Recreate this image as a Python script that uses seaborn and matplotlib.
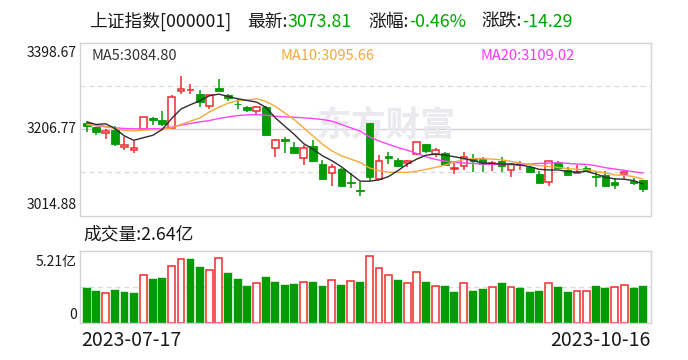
import numpy as np
import pandas as pd
import matplotlib
matplotlib.use("Agg")
import matplotlib.pyplot as plt
import seaborn as sns

# ---------------- data ----------------
date_labels = ["2023-07-17", "2023-10-16"]
prev_close0 = 3237.70

opens = [3220.7, 3210.4, 3198.7, 3203.8, 3167.9, 3161.4, 3206.0, 3230.9, 3227.3, 3209.7,
         3291.0, 3293.0, 3284.4, 3258.8, 3298.3, 3281.5, 3263.2, 3255.1, 3247.8, 3255.8,
         3164.3, 3184.0, 3166.5, 3141.6, 3168.7, 3129.2, 3108.6, 3117.4, 3090.3, 3072.0,
         3220.7, 3096.2, 3146.0, 3137.9, 3130.6, 3151.1, 3173.1, 3151.1, 3154.8, 3118.9,
         3125.5, 3140.1, 3140.1, 3129.2, 3135.0, 3116.0, 3127.0, 3123.3, 3107.2, 3088.9,
         3132.8, 3116.0, 3108.6, 3119.6, 3103.5, 3105.0, 3090.3, 3106.4, 3092.5, 3094.0]
highs = [3222.9, 3210.4, 3206.1, 3212.6, 3189.2, 3180.4, 3234.5, 3234.6, 3247.8, 3283.0,
         3324.7, 3306.4, 3293.9, 3282.0, 3318.1, 3284.4, 3274.2, 3258.8, 3258.8, 3258.0,
         3184.8, 3189.2, 3179.0, 3170.9, 3181.9, 3137.9, 3129.2, 3119.6, 3108.6, 3088.9,
         3220.7, 3149.7, 3157.0, 3142.3, 3137.9, 3179.0, 3173.1, 3164.3, 3157.0, 3130.6,
         3157.0, 3151.1, 3145.3, 3136.5, 3143.8, 3130.6, 3135.0, 3125.5, 3114.5, 3135.0,
         3135.0, 3121.8, 3127.7, 3125.5, 3110.8, 3113.0, 3098.4, 3114.5, 3098.4, 3094.0]
lows = [3200.2, 3193.6, 3184.1, 3169.4, 3160.6, 3154.0, 3205.5, 3215.5, 3212.6, 3209.0,
        3284.4, 3284.4, 3255.1, 3251.5, 3290.3, 3268.3, 3251.5, 3244.9, 3239.0, 3193.6,
        3145.3, 3152.6, 3154.0, 3127.7, 3136.5, 3096.9, 3079.3, 3081.5, 3076.4, 3057.4,
        3091.1, 3096.2, 3129.2, 3121.8, 3121.8, 3149.7, 3154.8, 3143.8, 3127.7, 3107.2,
        3116.0, 3110.8, 3110.8, 3114.5, 3110.8, 3101.3, 3116.0, 3112.3, 3088.1, 3081.5,
        3120.4, 3105.7, 3108.6, 3110.8, 3077.9, 3077.9, 3074.2, 3096.2, 3083.7, 3068.0]
closes = [3213.4, 3200.2, 3201.6, 3174.6, 3171.6, 3165.8, 3233.9, 3227.3, 3219.2, 3277.8,
          3294.9, 3294.3, 3266.1, 3281.5, 3290.3, 3275.6, 3261.7, 3249.3, 3255.8, 3193.6,
          3182.0, 3180.5, 3154.0, 3165.8, 3136.5, 3096.9, 3121.8, 3081.5, 3086.7, 3068.4,
          3101.3, 3136.5, 3141.6, 3124.0, 3135.0, 3179.0, 3158.5, 3160.0, 3127.7, 3120.4,
          3143.8, 3136.5, 3129.2, 3132.1, 3125.5, 3129.5, 3128.5, 3112.3, 3088.1, 3135.0,
          3120.4, 3105.7, 3110.8, 3113.0, 3101.3, 3079.3, 3083.7, 3111.6, 3088.10, 3073.81]

ma5 = [3222.9, 3217.0, 3218.5, 3208.2, 3191.4, 3181.9, 3187.7, 3192.9, 3206.0, 3230.2,
       3251.5, 3261.0, 3269.8, 3280.8, 3284.4, 3279.3, 3274.2, 3270.5, 3266.8, 3255.1,
       3231.7, 3213.4, 3195.1, 3174.6, 3162.1, 3147.5, 3136.5, 3123.3, 3107.2, 3091.1,
       3091.1, 3094.0, 3101.3, 3114.5, 3129.1, 3140.1, 3148.9, 3151.1, 3148.9, 3145.3,
       3141.6, 3136.5, 3131.3, 3130.6, 3129.1, 3129.1, 3126.9, 3123.3, 3117.4, 3116.0,
       3116.0, 3113.0, 3110.8, 3113.0, 3107.2, 3099.8, 3096.2, 3095.5, 3092.5, 3084.80]
ma10 = [3217.0, 3214.8, 3213.4, 3208.2, 3203.8, 3202.4, 3204.6, 3205.3, 3206.0, 3209.7,
        3217.0, 3224.4, 3231.7, 3244.9, 3255.1, 3264.6, 3269.8, 3271.2, 3274.2, 3268.3,
        3257.3, 3242.7, 3228.0, 3209.7, 3191.4, 3173.1, 3158.4, 3147.5, 3140.1, 3132.8,
        3120.4, 3114.5, 3110.8, 3110.8, 3110.8, 3113.0, 3117.4, 3121.8, 3126.9, 3133.5,
        3139.4, 3141.6, 3140.9, 3140.1, 3138.7, 3135.0, 3131.3, 3127.7, 3125.5, 3124.0,
        3121.8, 3118.9, 3117.4, 3116.7, 3113.0, 3109.4, 3105.0, 3104.2, 3101.3, 3095.66]
ma20 = [3217.0, 3214.1, 3211.9, 3209.7, 3208.2, 3207.5, 3207.5, 3207.5, 3208.2, 3211.2,
        3215.6, 3219.2, 3222.9, 3225.8, 3230.2, 3233.9, 3236.8, 3238.3, 3239.0, 3237.5,
        3235.3, 3233.9, 3233.1, 3231.7, 3230.2, 3228.0, 3224.4, 3217.0, 3209.7, 3202.4,
        3189.2, 3180.4, 3173.1, 3165.8, 3159.9, 3152.6, 3145.3, 3139.4, 3135.7, 3133.5,
        3131.3, 3130.6, 3129.1, 3129.1, 3128.4, 3127.7, 3128.4, 3129.1, 3130.6, 3131.3,
        3132.1, 3130.6, 3129.1, 3128.4, 3125.5, 3121.1, 3118.2, 3115.2, 3112.3, 3109.02]

volumes = [2.54, 2.30, 2.13, 2.37, 2.23, 2.16, 3.44, 3.17, 3.25, 4.09,
           4.60, 4.65, 4.05, 3.80, 4.68, 3.61, 3.17, 2.67, 2.86, 3.32,
           2.96, 2.74, 2.81, 2.93, 2.96, 2.67, 3.08, 2.74, 3.00, 2.96,
           4.82, 3.95, 3.44, 3.10, 2.86, 3.66, 2.96, 2.64, 2.67, 2.23,
           2.86, 2.30, 2.45, 2.57, 2.88, 2.57, 2.52, 2.23, 2.30, 2.86,
           2.59, 2.23, 2.33, 2.33, 2.67, 2.52, 2.57, 2.71, 2.52, 2.64]

price_axis = [3014.88, 3206.77, 3398.67]
vol_axis_top = 5.21

# ---------------- style ----------------
sns.set_theme(style="white")
plt.rcParams["font.family"] = ["Noto Sans CJK SC", "DejaVu Sans"]
plt.rcParams["axes.unicode_minus"] = False

RED = "#EE2B2B"
GREEN = "#029C02"
TXT_GREEN = "#00A600"
FRAME = "#D2D2DA"
GRID = "#DADADA"

W, H = 688, 360
fig = plt.figure(figsize=(W / 100, H / 100), dpi=100)
fig.patch.set_facecolor("white")


def fx(px):
    return px / W


def fy(py):
    return 1 - py / H


ax = fig.add_axes([fx(80), fy(215.5), 571 / W, (215.5 - 42.7) / H])
axv = fig.add_axes([fx(80), fy(322.7), 571 / W, (322.7 - 251) / H])

n = len(closes)
idx = np.arange(n)
o = np.array(opens); c = np.array(closes); hi = np.array(highs); lo = np.array(lows)
up = c >= o

# ---------------- price panel ----------------
p_lo, p_mid, p_hi = price_axis
ax.set_xlim(-0.72, 59.85)
ax.set_ylim(p_lo, p_hi)
q = (p_hi - p_lo) / 4
for v in (p_lo + q, p_lo + 3 * q):
    ax.axhline(v, color=GRID, lw=0.9, ls=(0, (4, 3)), zorder=0)
ax.axhline(p_mid, color=FRAME, lw=1.0, zorder=0)

ax.text(fx(386), fy(125), "东方财富", transform=fig.transFigure, ha="center",
        va="center", fontsize=25, fontweight="bold", color="#E9E9EE", zorder=0.5)

wick_colors = [RED if u else GREEN for u in up]
ax.vlines(idx, lo, hi, colors=wick_colors, lw=1.1, zorder=2)
body_lo = np.minimum(o, c)
body_h = np.maximum(np.abs(c - o), 1.3)
ax.bar(idx[up], body_h[up], bottom=body_lo[up], width=0.70, facecolor="white",
       edgecolor=RED, lw=1.1, zorder=3)
ax.bar(idx[~up], body_h[~up], bottom=body_lo[~up], width=0.80, facecolor=GREEN,
       edgecolor=GREEN, lw=0.6, zorder=3)

ma_df = pd.DataFrame({"i": idx, "MA5": ma5, "MA10": ma10, "MA20": ma20})
sns.lineplot(data=ma_df, x="i", y="MA20", ax=ax, color="#FF44FF", lw=1.0, zorder=4)
sns.lineplot(data=ma_df, x="i", y="MA10", ax=ax, color="#F6A83A", lw=1.0, zorder=4)
sns.lineplot(data=ma_df, x="i", y="MA5", ax=ax, color="#2E2E2E", lw=1.0, zorder=5)
ax.set_xlim(-0.72, 59.85)
ax.set_ylim(p_lo, p_hi)
ax.set_xticks([]); ax.set_yticks([])
ax.set_xlabel(""); ax.set_ylabel("")
for s in ax.spines.values():
    s.set_color(FRAME); s.set_linewidth(1.0)

# ---------------- volume panel ----------------
prev = np.concatenate([[prev_close0], c[:-1]])
vol_dir = np.where(c >= prev, "up", "down")
vdf = pd.DataFrame({"i": idx, "vol": volumes, "dir": vol_dir})
axv.axhline(vol_axis_top / 2, color=GRID, lw=0.9, ls=(0, (4, 3)), zorder=0)
sns.barplot(data=vdf, x="i", y="vol", hue="dir", palette={"up": RED, "down": GREEN},
            native_scale=True, dodge=False, width=0.84, errorbar=None, legend=False,
            saturation=1, ax=axv, zorder=2)
red_rgb = matplotlib.colors.to_rgb(RED)
for p in axv.patches:
    fc = p.get_facecolor()[:3]
    if np.allclose(fc, red_rgb, atol=0.02):
        p.set_facecolor("white"); p.set_edgecolor(RED); p.set_linewidth(1.1)
        w = p.get_width(); p.set_x(p.get_x() + 0.06); p.set_width(w - 0.12)
    else:
        p.set_edgecolor(GREEN); p.set_linewidth(0.3)
axv.set_xlim(-0.72, 59.85)
axv.set_ylim(0, vol_axis_top)
axv.set_xticks([]); axv.set_yticks([])
axv.set_xlabel(""); axv.set_ylabel("")
for s in axv.spines.values():
    s.set_color(FRAME); s.set_linewidth(1.0)

# ---------------- texts ----------------
TK = "#1A1A1A"
fig.text(fx(77), fy(52.7), f"{p_hi:.2f}", ha="right", va="center", fontsize=10, color=TK)
fig.text(fx(77), fy(129.3), f"{p_mid:.2f}", ha="right", va="center", fontsize=10, color=TK)
fig.text(fx(77), fy(205), f"{p_lo:.2f}", ha="right", va="center", fontsize=10, color=TK)
fig.text(fx(77), fy(262.3), f"{vol_axis_top:.2f}亿", ha="right", va="center", fontsize=10, color=TK)
fig.text(fx(77), fy(315), "0", ha="right", va="center", fontsize=10, color=TK)

fig.text(fx(83.3), fy(234), f"成交量:{volumes[-1]:.2f}亿", ha="left", va="center",
         fontsize=12.8, color=TK)
fig.text(fx(81.7), fy(341), date_labels[0], ha="left", va="center", fontsize=14, color=TK)
fig.text(fx(651), fy(341), date_labels[-1], ha="right", va="center", fontsize=14, color=TK)

fig.text(fx(91), fy(56), f"MA5:{ma5[-1]:.2f}", ha="left", va="center", fontsize=10.5, color="#333333")
fig.text(fx(280), fy(56), f"MA10:{ma10[-1]:.2f}", ha="left", va="center", fontsize=10.5, color="#F6A83A")
fig.text(fx(480), fy(56), f"MA20:{ma20[-1]:.2f}", ha="left", va="center", fontsize=10.5, color="#FF33FF")

last = closes[-1]
chg = closes[-1] - closes[-2]
pct = chg / closes[-2] * 100
renderer = fig.canvas.get_renderer()
TY = fy(21.7)
TS = 12.8
fig.text(fx(89.3), TY, "上证指数[000001]", ha="left", va="center", fontsize=TS, color=TK)
pairs = [(246.7, "最新:", f"{last:.2f}"), (368.3, "涨幅:", f"{pct:.2f}%"), (481.6, "涨跌:", f"{chg:.2f}")]
for xpx, lab, val in pairs:
    t = fig.text(fx(xpx), TY, lab, ha="left", va="center", fontsize=TS, color=TK)
    bb = t.get_window_extent(renderer=renderer)
    fig.text(bb.x1 / fig.bbox.width, TY, val, ha="left", va="center", fontsize=TS, color=TXT_GREEN)

fig.savefig("out.png", dpi=100, facecolor="white")
